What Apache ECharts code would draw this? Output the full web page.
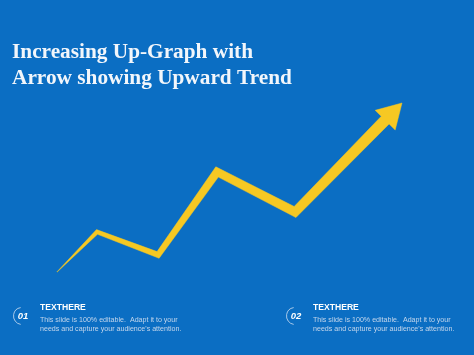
<!DOCTYPE html>
<html><head><meta charset="utf-8">
<script src="https://cdn.jsdelivr.net/npm/echarts@6/dist/echarts.min.js"></script>
<style>html,body{margin:0;padding:0;background:#0b6ec3;}#c{width:474px;height:355px;}</style>
</head><body><div id="c"></div>
<script>
// Trend path points (relative 0-100 scale)
const xVals = [0, 11.6, 29.3, 46.4, 69.0, 100];
const yVals = [0, 23.7, 10.1, 59.2, 35.5, 100];
const titleLines = ['Increasing Up-Graph with', 'Arrow showing Upward Trend'];
const itemNums = ['01', '02'];
const itemHeads = ['TEXTHERE', 'TEXTHERE'];
const itemBody = ["This slide is 100% editable.  Adapt it to your", "needs and capture your audience's attention."];

const widths = [0.3, 4, 5.5, 8, 9, 11];
const headLen = 24, headHalf = 14;

const chart = echarts.init(document.getElementById('c'), null, {renderer: 'canvas'});
const data = xVals.map((x, i) => [x, yVals[i]]);

function renderArrow(params, api) {
  if (params.dataIndex !== 0) return null;
  const pts = data.map(d => api.coord(d));
  const n = pts.length;
  const tip = pts[n - 1];
  const prev = pts[n - 2];
  let dx = tip[0] - prev[0], dy = tip[1] - prev[1];
  let L = Math.hypot(dx, dy); dx /= L; dy /= L;
  const base = [tip[0] - dx * headLen, tip[1] - dy * headLen];
  const shaft = pts.slice(0, n - 1).concat([base]);
  const left = [], right = [];
  const nrm = (a, b) => { let ux = b[0] - a[0], uy = b[1] - a[1]; const l = Math.hypot(ux, uy); return [-uy / l, ux / l]; };
  for (let i = 0; i < shaft.length; i++) {
    let nx, ny, scale = 1;
    if (i === 0) { [nx, ny] = nrm(shaft[0], shaft[1]); }
    else if (i === shaft.length - 1) { [nx, ny] = nrm(shaft[i - 1], shaft[i]); }
    else {
      const n1 = nrm(shaft[i - 1], shaft[i]), n2 = nrm(shaft[i], shaft[i + 1]);
      nx = n1[0] + n2[0]; ny = n1[1] + n2[1];
      const l = Math.hypot(nx, ny); nx /= l; ny /= l;
      scale = 1 / Math.max(0.3, nx * n1[0] + ny * n1[1]);
    }
    const w = widths[i] / 2 * scale;
    left.push([shaft[i][0] + nx * w, shaft[i][1] + ny * w]);
    right.push([shaft[i][0] - nx * w, shaft[i][1] - ny * w]);
  }
  const px = -dy, py = dx;
  const headL = [base[0] + px * headHalf, base[1] + py * headHalf];
  const headR = [base[0] - px * headHalf, base[1] - py * headHalf];
  const wEnd = widths[widths.length - 1] / 2;
  const bl = [base[0] + px * wEnd, base[1] + py * wEnd];
  const br = [base[0] - px * wEnd, base[1] - py * wEnd];
  const poly = left.slice(0, -1).concat([bl, headL, tip, headR, br]).concat(right.slice(0, -1).reverse());
  return {
    type: 'polygon',
    shape: {points: poly},
    style: {fill: '#f6c823', stroke: '#f6c823', lineWidth: 0.5}
  };
}

function itemGraphics(cx, tx, idx) {
  return [
    {type: 'arc', shape: {cx: cx, cy: 316, r: 8.5, startAngle: Math.PI * 0.55, endAngle: Math.PI * 1.45},
     style: {stroke: '#cfe0f2', lineWidth: 0.8, fill: null}},
    {type: 'text', x: cx + 1, y: 316, style: {text: itemNums[idx], fill: '#ffffff', font: 'italic bold 9.5px "Liberation Sans", Arial, sans-serif', textAlign: 'center', textVerticalAlign: 'middle'}},
    {type: 'text', x: tx, y: 308, style: {text: itemHeads[idx], fill: '#ffffff', font: 'bold 8.6px "Liberation Sans", Arial, sans-serif', textAlign: 'left', textVerticalAlign: 'middle'}},
    {type: 'text', x: tx, y: 320, style: {text: itemBody[0], fill: '#c3d6ec', font: '7.1px "Liberation Sans", Arial, sans-serif', textAlign: 'left', textVerticalAlign: 'middle'}},
    {type: 'text', x: tx, y: 329, style: {text: itemBody[1], fill: '#c3d6ec', font: '7.1px "Liberation Sans", Arial, sans-serif', textAlign: 'left', textVerticalAlign: 'middle'}}
  ];
}

chart.setOption({
  backgroundColor: '#0b6ec3',
  animation: false,
  grid: {left: 57, right: 72, top: 103, bottom: 83},
  xAxis: {type: 'value', min: 0, max: 100, show: false},
  yAxis: {type: 'value', min: 0, max: 100, show: false},
  graphic: [
    {type: 'text', left: 12, top: 40, style: {text: titleLines.join('\n'), fill: '#f2f6fb', font: 'bold 21.3px "Liberation Serif", "DejaVu Serif", serif', lineHeight: 25.5}}
  ].concat(itemGraphics(22, 40, 0), itemGraphics(295, 313, 1)),
  series: [{
    type: 'custom',
    renderItem: renderArrow,
    data: data,
    silent: true
  }]
});
</script></body></html>
